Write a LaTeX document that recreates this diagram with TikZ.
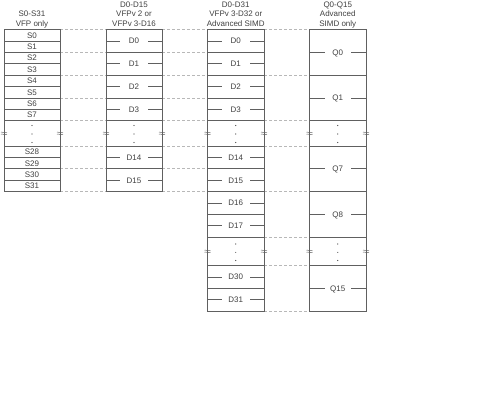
\documentclass[tikz,border=0pt]{standalone}
\usepackage{fontspec}
\setmainfont{Liberation Sans}
\definecolor{linec}{HTML}{606060}
\definecolor{dashc}{HTML}{B8B8B8}
\definecolor{textc}{HTML}{404040}
\begin{document}
\begin{tikzpicture}[x=1pt,y=-1pt,
  box/.style={draw=linec, line width=0.7pt},
  conn/.style={draw=dashc, line width=0.7pt, dash pattern=on 3pt off 2pt},
  lab/.style={font=\fontsize{8}{9}\selectfont, text=textc, inner sep=0pt, text height=5.8pt, text depth=0pt},
  dotc/.style={fill=textc, draw=none},
  brk/.style={draw=linec, line width=0.5pt}]
\useasboundingbox (0,0) rectangle (493,415);

% titles
\node[lab] (tS1) at (32,14) {S0-S31};
\node[lab] (tS2) at (32,23.5) {VFP only};
\node[lab] (tA1) at (134,4.5) {D0-D15};
\node[lab] (tA2) at (134,14) {VFPv 2 or};
\node[lab] (tA3) at (134,23.5) {VFPv 3-D16};
\node[lab] (tB1) at (235.75,4.5) {D0-D31};
\node[lab] (tB2) at (235.75,14) {VFPv 3-D32 or};
\node[lab] (tB3) at (235.75,23.5) {Advanced SIMD};
\node[lab] (tQ1) at (337.75,4.5) {Q0-Q15};
\node[lab] (tQ2) at (337.75,14) {Advanced};
\node[lab] (tQ3) at (337.75,23.5) {SIMD only};

% dashed connectors
\foreach \y in {29.5,52.3,75.1,97.9,120.7,146,168.8,191.6} {
  \draw[conn] (60,\y) -- (106,\y);
  \draw[conn] (162,\y) -- (207.5,\y);
}
\foreach \y in {29.5,75.1,120.7,146,191.6,237.2,265.5,311.1} {
  \draw[conn] (264,\y) -- (309.5,\y);
}

% outer boxes
\draw[box] (4,29.5) rectangle (60,191.6);
\draw[box] (106,29.5) rectangle (162,191.6);
\draw[box] (207.5,29.5) rectangle (264,311.1);
\draw[box] (309.5,29.5) rectangle (366,311.1);

% S column
\foreach \y in {40.9,52.3,63.7,75.1,86.5,97.9,109.3,120.7,146,157.4,168.8,180.2} {
  \draw[box] (4,\y) -- (60,\y);
}
\foreach \n/\y in {0/35.2,1/46.6,2/58,3/69.4,4/80.8,5/92.2,6/103.6,7/115,28/151.7,29/163.1,30/174.5,31/185.9} {
  \node[lab] (S\n) at (32,\y) {S\n};
}

% D16 column boundaries
\foreach \y in {52.3,75.1,97.9,120.7,146,168.8} {
  \draw[box] (106,\y) -- (162,\y);
}
% D32 column boundaries
\foreach \y in {52.3,75.1,97.9,120.7,146,168.8,191.6,214.4,237.2,265.5,288.3} {
  \draw[box] (207.5,\y) -- (264,\y);
}
% D midline ticks and labels
\foreach \n/\y in {0/40.9,1/63.7,2/86.5,3/109.3,14/157.4,15/180.2} {
  \draw[box] (106,\y) -- ++(14,0);
  \draw[box] (162,\y) -- ++(-14,0);
  \node[lab] (A\n) at (134,\y) {D\n};
  \draw[box] (207.5,\y) -- ++(14,0);
  \draw[box] (264,\y) -- ++(-14,0);
  \node[lab] (B\n) at (235.75,\y) {D\n};
}
\foreach \n/\y in {16/203,17/225.8,30/276.9,31/299.7} {
  \draw[box] (207.5,\y) -- ++(14,0);
  \draw[box] (264,\y) -- ++(-14,0);
  \node[lab] (B\n) at (235.75,\y) {D\n};
}

% Q column
\foreach \y in {75.1,120.7,146,191.6,237.2,265.5} {
  \draw[box] (309.5,\y) -- (366,\y);
}
\foreach \n/\y in {0/52.3,1/97.9,7/168.8,8/214.4,15/288.3} {
  \draw[box] (309.5,\y) -- ++(15,0);
  \draw[box] (366,\y) -- ++(-15,0);
  \node[lab] (Q\n) at (337.75,\y) {Q\n};
}

% vertical dots
\foreach \x in {32,134,235.75,337.75} {
  \foreach \y in {125.5,134,142.5} { \fill[dotc] (\x,\y) circle (0.55pt); }
}
\foreach \x in {235.75,337.75} {
  \foreach \y in {244,252.3,260.5} { \fill[dotc] (\x,\y) circle (0.55pt); }
}

% break marks
\foreach \x in {4,60,106,162,207.5,264,309.5,366} {
  \draw[brk] (\x-3,133.4-1.3) -- (\x+3,133.4-0.6);
  \draw[brk] (\x-3,133.4+0.6) -- (\x+3,133.4+1.3);
}
\foreach \x in {207.5,264,309.5,366} {
  \draw[brk] (\x-3,251.4-1.3) -- (\x+3,251.4-0.6);
  \draw[brk] (\x-3,251.4+0.6) -- (\x+3,251.4+1.3);
}
\end{tikzpicture}
\end{document}
